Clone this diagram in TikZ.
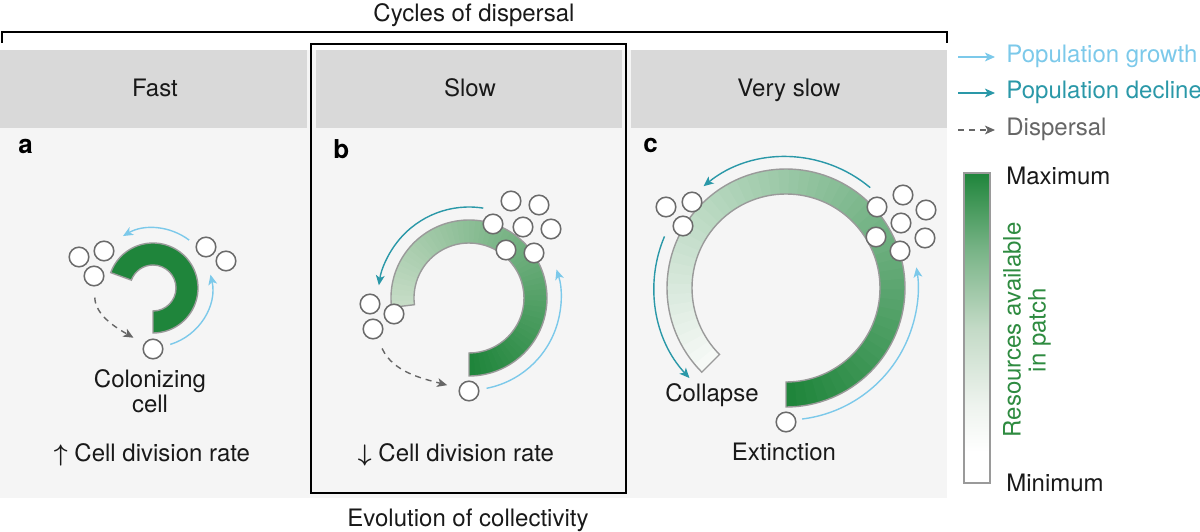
\documentclass[tikz,border=0pt]{standalone}
\usepackage{fontspec}
\setmainfont{TeX Gyre Heros}
\usetikzlibrary{arrows.meta}
\definecolor{hdrgray}{HTML}{D9D9D9}
\definecolor{panelbg}{HTML}{F5F5F5}
\definecolor{ringdark}{HTML}{1F853B}
\definecolor{ringlightb}{HTML}{C6DCC6}
\definecolor{ringlightc}{HTML}{F6F9F6}
\definecolor{barhi}{HTML}{79B487}
\definecolor{barmid}{HTML}{C3DAC6}
\definecolor{barlo}{HTML}{EEF3EE}
\definecolor{edgegray}{HTML}{9A9A9A}
\definecolor{cellgray}{HTML}{6B6B6B}
\definecolor{growthblue}{HTML}{7CC9EA}
\definecolor{declineteal}{HTML}{2A98A8}
\definecolor{dispgray}{HTML}{666666}
\definecolor{resgreen}{HTML}{2E8B40}
\pgfdeclareverticalshading{resbar}{100bp}{color(0bp)=(white); color(30bp)=(white);
  color(37.5bp)=(barlo); color(50bp)=(barmid); color(62.5bp)=(barhi); color(75bp)=(ringdark); color(100bp)=(ringdark)}
\begin{document}
\begin{tikzpicture}[x=0.5pt,y=0.5pt,
  txt/.style={font=\fontsize{12}{12.5}\selectfont, inner sep=0pt, text=black!90},
  lbl/.style={font=\fontsize{13}{13}\selectfont\bfseries, inner sep=0pt, anchor=base west},
  cell/.style={circle, draw=cellgray, fill=white, line width=0.75pt, minimum size=9.8pt, inner sep=0pt},
  ringedge/.style={draw=edgegray, line width=0.7pt},
  tip/.style={-{Stealth[length=5pt,width=4.4pt,inset=1.3pt]}},
  growth/.style={tip, draw=growthblue, line width=0.7pt},
  decline/.style={tip, draw=declineteal, line width=0.7pt},
  dispersal/.style={tip, draw=dispgray, line width=0.7pt, dash pattern=on 3pt off 2.5pt}]
\useasboundingbox (0,0) rectangle (1200,531);
% panels
\fill[panelbg] (0,33) rectangle (947,481);
\fill[hdrgray] (0,403) rectangle (307,481);
\fill[hdrgray] (316,403) rectangle (622,481);
\fill[hdrgray] (631,403) rectangle (947,481);
\draw[line width=1pt] (311,38) rectangle (626,487);
\draw[line width=0.8pt] (2,488) -- (2,499) -- (947,499) -- (947,488); % bracket
\node[txt, anchor=base] (cycles) at (474,509) {Cycles of dispersal};
\node[txt, anchor=base] (evol) at (468,5) {Evolution of collectivity};
\node[txt, anchor=base] (fast) at (155,434) {Fast};
\node[txt, anchor=base] (slow) at (470,434) {Slow};
\node[txt, anchor=base] (vslow) at (789,434) {Very slow};
\node[lbl] (la) at (18,377) {a};
\node[lbl] (lb) at (333,372) {b};
\node[lbl] (lc) at (643,378) {c};
% ring centres
\coordinate (ra) at (153,243);
\coordinate (rb) at (469,233);
\coordinate (rc) at (786,243);
\draw[ringedge, fill=ringdark] ([shift={(-90:23)}]ra) arc[start angle=-90,end angle=160,radius=23]
  -- ([shift={(160:45)}]ra) arc[start angle=160,end angle=-90,radius=45] -- cycle;
% shaded rings, piece by piece (dark at the bottom end)
\foreach \ctr/\ri/\ro/\e/\lite in {rb/55/78/187/ringlightb, rc/94/119/225/ringlightc}{
  \pgfmathsetmacro\stp{(\e+90)/60}
  \foreach \i in {0,...,59}{
    \pgfmathsetmacro\angA{-90+\i*\stp}
    \pgfmathsetmacro\angB{min(\angA+\stp+0.5,\e)}
    \pgfmathsetmacro\pc{100-\i*100/59}
    \fill[fill=ringdark!\pc!\lite] ([shift={(\angA:\ri)}]\ctr) arc[start angle=\angA,end angle=\angB,radius=\ri]
      -- ([shift={(\angB:\ro)}]\ctr) arc[start angle=\angB,end angle=\angA,radius=\ro] -- cycle;
  }
  \draw[ringedge] ([shift={(-90:\ri)}]\ctr) arc[start angle=-90,end angle=\e,radius=\ri]
    -- ([shift={(\e:\ro)}]\ctr) arc[start angle=\e,end angle=-90,radius=\ro] -- cycle;
}
% cells
\foreach \n/\x/\y in {a1/79/274, a2/104/280, a3/94/255, a4/206/284, a5/226/270, a6/153/182,
  b1/511/330, b2/539/326, b3/493/307, b4/523/304, b5/551/302, b6/506/281, b7/534/278,
  b8/370/227, b9/394/217, b10/373/202, b11/469/140,
  c1/666/324, c2/692/329, c3/683/305, c4/877/324, c5/903/336, c6/926/321, c7/901/308,
  c8/876/294, c9/900/280, c10/925/293, c11/786/109}
  \node[cell] (\n) at (\x,\y) {};
% arrows round the rings
\draw[growth] ([shift={(53:60)}]ra) arc[start angle=53,end angle=120,radius=60];
\draw[growth] ([shift={(-73:59)}]ra) arc[start angle=-73,end angle=13,radius=59];
\draw[dispersal, shorten <=5.5pt, shorten >=6pt] (a3) to[out=-88,in=150] (a6);
\draw[decline] ([shift={(81:91)}]rb) arc[start angle=81,end angle=172,radius=91];
\draw[growth] ([shift={(-79:92)}]rb) arc[start angle=-79,end angle=18,radius=92];
\draw[dispersal, shorten <=5.5pt, shorten >=6pt] (b10) to[out=-65,in=165] (b11);
\draw[decline] ([shift={(50:131)}]rc) arc[start angle=50,end angle=129,radius=131];
\draw[decline] ([shift={(157:132)}]rc) arc[start angle=157,end angle=223,radius=132];
\draw[growth] ([shift={(-83:132)}]rc) arc[start angle=-83,end angle=9,radius=132];
% texts in the panels
\node[txt, align=center] (colon) at (150,140) {Colonizing\\cell};
\node[txt, anchor=base] (ratea) at (152,70) {{\boldmath$\uparrow$} Cell division rate};
\node[txt, anchor=base] (rateb) at (456,70) {{\boldmath$\downarrow$} Cell division rate};
\node[txt, anchor=base] (collapse) at (712,130) {Collapse};
\node[txt, anchor=base] (extinct) at (784,71) {Extinction};
% legend
\coordinate (g0) at (958,474); \coordinate (g1) at (995,474);
\coordinate (d0) at (958,438); \coordinate (d1) at (995,438);
\coordinate (s0) at (958,401); \coordinate (s1) at (995,401);
\draw[growth] (g0) -- (g1);
\draw[decline] (d0) -- (d1);
\draw[dispersal] (s0) -- (s1);
\node[txt, anchor=base west, text=growthblue] (lgrowth) at (1006,468) {Population growth};
\node[txt, anchor=base west, text=declineteal] (ldecline) at (1006,432) {Population decline};
\node[txt, anchor=base west, text=dispgray] (ldisp) at (1006,395) {Dispersal};
\draw[edgegray, line width=0.7pt, shading=resbar] (964,48) rectangle (990,358);
\node[txt, anchor=base west] (lmax) at (1006,346) {Maximum};
\node[txt, anchor=base west] (lmin) at (1006,40) {Minimum};
\node[txt, rotate=90, align=center, text=resgreen] (lres) at (1027,201) {Resources available\\in patch};
\end{tikzpicture}
\end{document}
